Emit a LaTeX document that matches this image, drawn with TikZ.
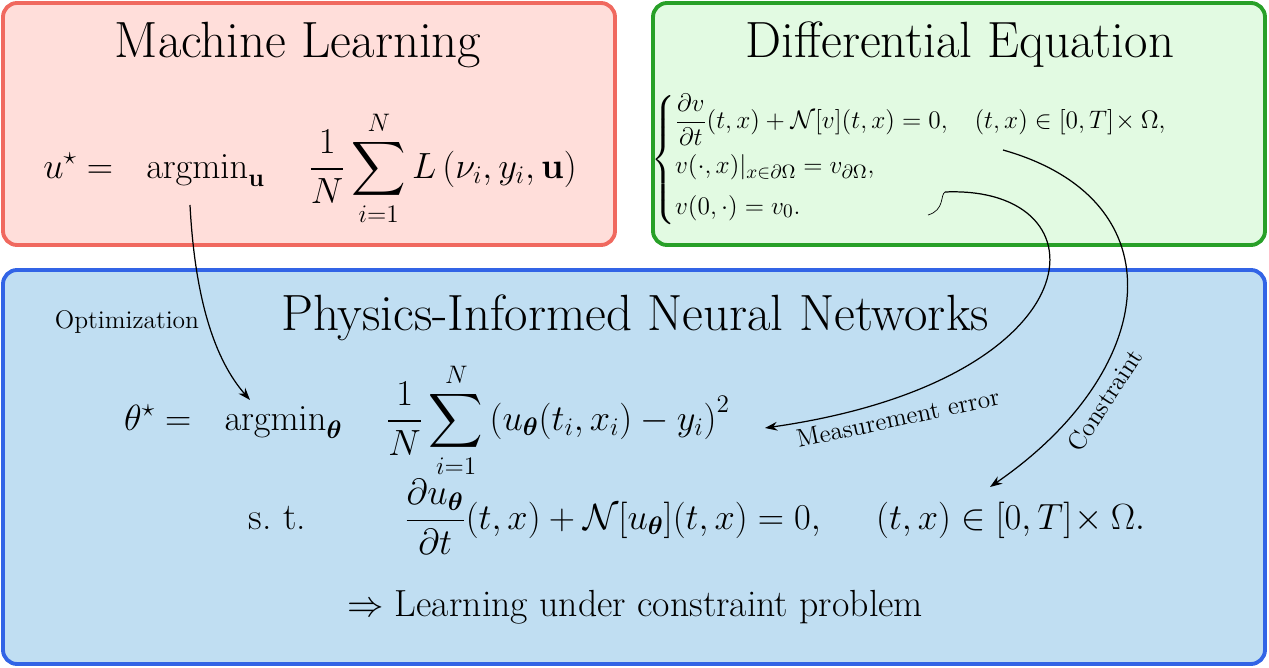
\documentclass[tikz,border=0pt]{standalone}
\usepackage{amsmath,amssymb,bm}
\usetikzlibrary{arrows.meta}
\definecolor{redfill}{RGB}{255,222,218}
\definecolor{redline}{RGB}{240,105,95}
\definecolor{greenfill}{RGB}{226,250,226}
\definecolor{greenline}{RGB}{40,160,40}
\definecolor{bluefill}{RGB}{192,222,242}
\definecolor{blueline}{RGB}{50,100,230}
\tikzset{
 panel/.style={rounded corners=8pt,line width=2.2pt},
 title/.style={font=\fontsize{29}{34}\selectfont},
 bigf/.style={font=\fontsize{21.5}{26}\selectfont},
 smallf/.style={font=\fontsize{15.3}{19}\selectfont},
 lab/.style={font=\fontsize{14.5}{17}\selectfont},
 conn/.style={-{Stealth[length=7pt,width=5pt]},line width=0.7pt}
}
\begin{document}
\begin{tikzpicture}[x=0.02cm,y=-0.02cm]
\useasboundingbox (0,0) rectangle (1269,668);
\draw[panel,fill=redfill,draw=redline] (3,3) rectangle (615,245);
\draw[panel,fill=greenfill,draw=greenline] (653,3) rectangle (1265,245);
\draw[panel,fill=bluefill,draw=blueline] (3,270) rectangle (1265,664);

\node[title] (ml) at (298,45) {Machine Learning};
\node[title] (de) at (960,45) {Differential Equation};
\node[title] (pinn) at (635,318) {Physics-Informed Neural Networks};

\node[bigf] (mlf) at (310,168) {$u^\star =\ \ \operatorname{argmin}_{\mathbf u}\quad \dfrac{1}{N}\displaystyle\sum_{i=1}^{N} L\left(\nu_i, y_i, \mathbf u\right)$};

\node[smallf,anchor=west] (sys) at (645,160) {$\begin{cases}\dfrac{\partial v}{\partial t}(t,x)+\mathcal N[v](t,x)=0, & (t,x)\in[0,T]\!\times\Omega,\\[2pt] v(\cdot,x)|_{x\in\partial\Omega}=v_{\partial\Omega}, &\\ v(0,\cdot)=v_0. &\end{cases}$};

\node[bigf] (th) at (427,420) {$\theta^\star =\ \ \operatorname{argmin}_{\bm\theta}\quad \dfrac{1}{N}\displaystyle\sum_{i=1}^{N} \left(u_{\bm\theta}(t_i,x_i)-y_i\right)^2$};
\node[bigf] (st) at (697,517) {$\text{s.\ t.}\qquad\ \ \dfrac{\partial u_{\bm\theta}}{\partial t}(t,x)+\mathcal N[u_{\bm\theta}](t,x)=0,\quad\ (t,x)\in[0,T]\!\times\Omega.$};
\node[bigf] (lu) at (635,607) {$\Rightarrow$ Learning under constraint problem};

\node[lab] (opt) at (127,322) {Optimization};
\coordinate (a1) at (190,205);
\coordinate (a2) at (250,400);
\draw[conn] (a1) .. controls (195,300) and (215,360) .. (a2);

\coordinate (b0) at (928,215);
\coordinate (b1) at (945,192);
\coordinate (b2) at (765,428);
\draw (b0) .. controls (945,210) and (940,195) .. (b1);
\draw[conn] (b1) .. controls (1110,185) and (1100,380) .. (b2);
\node[lab,rotate=12] (me) at (898,418) {Measurement error};

\coordinate (c1) at (1003,150);
\coordinate (c2) at (990,487);
\draw[conn] (c1) .. controls (1180,200) and (1160,370) .. (c2);
\node[lab,rotate=57] (cons) at (1105,400) {Constraint};
\end{tikzpicture}
\end{document}
